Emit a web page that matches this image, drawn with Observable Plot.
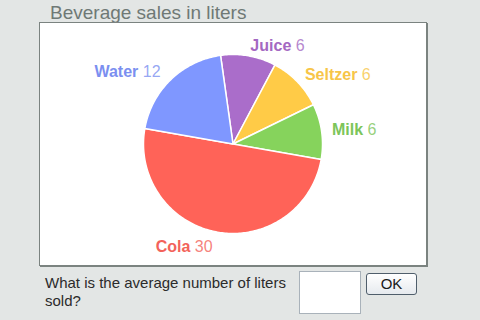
<!DOCTYPE html>
<html>
<head>
<meta charset="utf-8">
<script src="https://cdn.jsdelivr.net/npm/d3@7"></script>
<script src="https://cdn.jsdelivr.net/npm/@observablehq/plot@0.6"></script>
<style>
  html, body { margin: 0; padding: 0; }
  body { width: 480px; height: 320px; background: #e3e6e5; position: relative; overflow: hidden;
         font-family: "Liberation Sans", Arial, sans-serif; }
  #title { position: absolute; left: 50px; top: 0px; font-size: 19px; line-height: 26px; color: #6f7976; white-space: nowrap; }
  #box { position: absolute; left: 39px; top: 22px; width: 386px; height: 242px; background: #fff;
         border: 1px solid #7b8380; box-shadow: 1px 1px 0 #7b8380; }
  #box svg { display: block; }
  #question { position: absolute; left: 45px; top: 274px; width: 250px; font-size: 15px; line-height: 18px; color: #2b2b2b; }
  #answer { position: absolute; left: 299px; top: 271px; width: 60px; height: 41px; background: #fff; border: 1px solid #a9b2ba; box-sizing: content-box; }
  #ok { position: absolute; left: 366px; top: 273px; width: 49px; height: 20px; border: 1px solid #4f5e6b; border-radius: 3px;
        background: linear-gradient(#ffffff, #e6eaee); font-size: 15px; line-height: 20px; text-align: center; color: #1a1a1a; }
</style>
</head>
<body>
<div id="title">Beverage sales in liters</div>
<div id="box"></div>
<div id="question">What is the average number of liters sold?</div>
<div id="answer"></div>
<div id="ok">OK</div>
<script>
// ---- data ----
const categories = ["Juice", "Seltzer", "Milk", "Cola", "Water"];
const liters = [6, 6, 6, 30, 12];
const sliceColors = ["#aa6dca", "#ffcb47", "#86d35c", "#ff6358", "#7f97ff"];
const labelColors = ["#a468c2", "#f7c548", "#7cc55a", "#f3625a", "#7b8ff0"];

// ---- layout constants ----
const W = 386, H = 242;
const cx = 192.5, cy = 120.5, R = 89.5;   // pixel center / radius of the pie
const startDeg = -8;                     // angle of first slice edge, clockwise from 12 o'clock
const labelR = 100 / R;                  // label anchor radius in unit coordinates
const fontFamily = '"Liberation Sans", Arial, sans-serif';
const fontSize = 16;

const total = d3.sum(liters);
const rows = [];
const slices = [];
let acc = startDeg * Math.PI / 180;
categories.forEach((name, i) => {
  const a0 = acc, a1 = acc + liters[i] / total * 2 * Math.PI;
  acc = a1;
  const n = Math.max(4, Math.ceil((a1 - a0) / (Math.PI / 180)));
  rows.push({name, px: 0, py: 0});
  for (let k = 0; k <= n; k++) {
    const a = a0 + (a1 - a0) * k / n;
    rows.push({name, px: Math.sin(a), py: Math.cos(a)});
  }
  const mid = (a0 + a1) / 2;
  slices.push({name, value: liters[i], color: labelColors[i],
               lx: labelR * Math.sin(mid), ly: labelR * Math.cos(mid),
               right: Math.sin(mid) >= 0, below: Math.cos(mid) < 0});
});

// text measurement for composing "Name value" labels
const ctx = document.createElement("canvas").getContext("2d");
function tw(s, weight) { ctx.font = `${weight} ${fontSize}px ${fontFamily}`; return ctx.measureText(s).width; }
const space = tw(" ", "normal");
const gap = 3;

const labelMarks = [];
slices.forEach(s => {
  const dy = s.below ? 4 : 0;
  const nameW = tw(s.name, "bold"), valW = tw(String(s.value), "normal");
  const endX = s.right ? 0 : -gap;
  labelMarks.push(Plot.text([s], {x: "lx", y: "ly", text: "name", fill: s.color, fontWeight: "bold",
    textAnchor: s.right ? "start" : "end", dx: s.right ? 0 : endX - (valW + space), dy,
    fontSize, fontFamily}));
  labelMarks.push(Plot.text([s], {x: "lx", y: "ly", text: d => String(d.value), fill: s.color, fillOpacity: 0.8,
    textAnchor: s.right ? "start" : "end", dx: s.right ? nameW + space : endX, dy,
    fontSize, fontFamily}));
});

const chart = Plot.plot({
  width: W, height: H,
  margin: 0,
  style: {background: "#fff", overflow: "visible"},
  x: {domain: [-1, 1], range: [cx - R, cx + R], axis: null},
  y: {domain: [-1, 1], range: [cy + R, cy - R], axis: null},
  color: {domain: categories, range: sliceColors},
  marks: [
    Plot.line(rows, {x: "px", y: "py", z: "name", fill: "name", stroke: "#fff", strokeWidth: 1.5,
      curve: "linear-closed", strokeLinejoin: "round"}),
    ...labelMarks
  ]
});
document.getElementById("box").appendChild(chart);
</script>
</body>
</html>
